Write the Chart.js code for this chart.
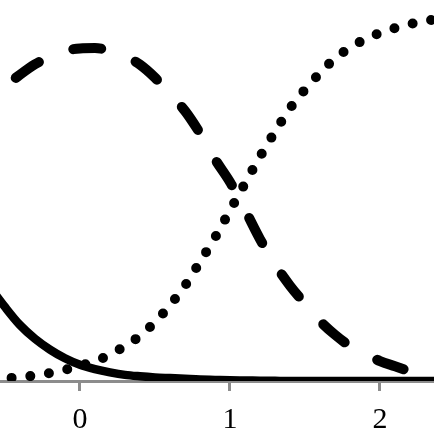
<!DOCTYPE html>
<html>
<head>
<meta charset="utf-8">
<script src="https://cdn.jsdelivr.net/npm/chart.js@4.4.1/dist/chart.umd.min.js"></script>
<style>
  html, body { margin: 0; padding: 0; background: #fff; }
  #wrap { width: 434px; height: 434px; position: relative; }
</style>
</head>
<body>
<div id="wrap"><canvas id="chart"></canvas></div>
<script>
// x positions shared by all three curves
const xValues = [
  -0.6, -0.5, -0.4, -0.3, -0.2, -0.1, 0.0, 0.1, 0.2, 0.3, 0.4,
  0.5, 0.6, 0.7, 0.8, 0.9, 1.0, 1.1, 1.2, 1.3, 1.4,
  1.5, 1.6, 1.7, 1.8, 1.9, 2.0, 2.1, 2.2, 2.3, 2.4,
];

// solid: decaying curve
const solidValues = [
  0.26, 0.205, 0.155, 0.117, 0.087, 0.063, 0.045, 0.033, 0.024, 0.017, 0.013,
  0.01, 0.008, 0.006, 0.004, 0.003, 0.002, 0.0015, 0.001, 0.0005, 0,
  0, 0, 0, 0, 0, 0, 0, 0, 0, 0,
];

// dashed: bump peaking just right of 0
const dashedValues = [
  0.77, 0.815, 0.848, 0.877, 0.898, 0.914, 0.921, 0.922, 0.914, 0.9, 0.876,
  0.84, 0.795, 0.748, 0.686, 0.614, 0.551, 0.474, 0.393, 0.323, 0.264,
  0.214, 0.166, 0.128, 0.097, 0.076, 0.055, 0.041, 0.027, 0.018, 0.012,
];

// dotted: rising s-curve
const dottedValues = [
  0.005, 0.007, 0.011, 0.015, 0.022, 0.031, 0.042, 0.055, 0.073, 0.097, 0.125,
  0.163, 0.21, 0.264, 0.33, 0.397, 0.472, 0.547, 0.621, 0.69, 0.755,
  0.807, 0.853, 0.893, 0.923, 0.946, 0.964, 0.977, 0.988, 0.997, 1.003,
];

const tickValues = [0, 1, 2];

function toPoints(values) {
  return values.map((y, i) => ({ x: xValues[i], y }));
}

const AXIS_GREY = '#8c8c8c';

new Chart(document.getElementById('chart'), {
  type: 'line',
  data: {
    datasets: [
      {
        data: toPoints(solidValues),
        borderColor: '#000',
        borderWidth: 8.5,
        cubicInterpolationMode: 'monotone',
        pointRadius: 0,
        borderCapStyle: 'round',
      },
      {
        data: toPoints(dashedValues),
        borderColor: '#000',
        borderWidth: 10,
        borderDash: [28, 37],
        borderDashOffset: 29,
        borderCapStyle: 'round',
        cubicInterpolationMode: 'monotone',
        pointRadius: 0,
      },
      {
        data: toPoints(dottedValues),
        borderColor: '#000',
        borderWidth: 10,
        borderDash: [0, 18.8],
        borderDashOffset: 15.9,
        borderCapStyle: 'round',
        cubicInterpolationMode: 'monotone',
        pointRadius: 0,
      },
    ],
  },
  options: {
    responsive: true,
    maintainAspectRatio: false,
    animation: false,
    layout: { padding: 0 },
    plugins: {
      legend: { display: false },
      tooltip: { enabled: false },
    },
    scales: {
      x: {
        type: 'linear',
        min: -0.533,
        max: 2.36,
        afterBuildTicks(scale) {
          scale.ticks = tickValues.map((value) => ({ value }));
        },
        // keep the plot bottom at the same place as the original
        afterFit(scale) {
          scale.height = 53;
        },
        grid: {
          drawOnChartArea: false,
          drawTicks: true,
          tickLength: 10,
          color: AXIS_GREY,
          lineWidth: 3,
        },
        border: { color: AXIS_GREY, width: 3 },
        ticks: {
          color: '#000',
          padding: 14,
          maxRotation: 0,
          font: { family: '"Liberation Serif", serif', size: 30, lineHeight: 1 },
        },
      },
      y: {
        display: false,
        min: 0,
        max: 1.055,
      },
    },
  },
});
</script>
</body>
</html>
